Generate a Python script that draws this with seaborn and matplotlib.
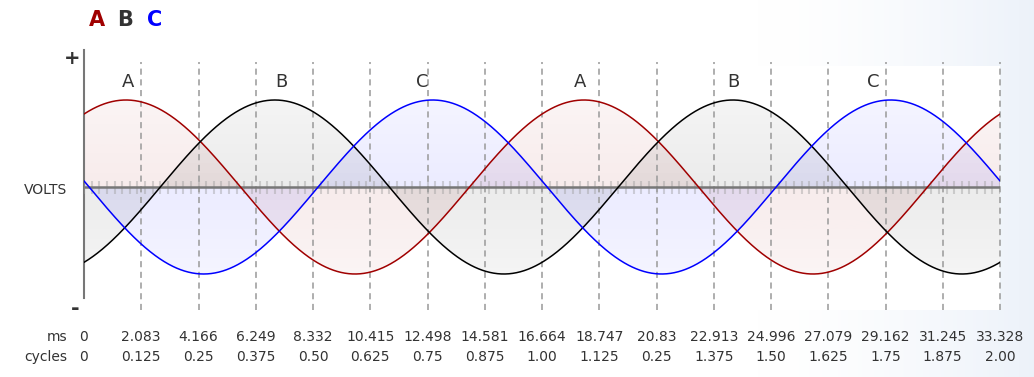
import numpy as np
import pandas as pd
import matplotlib
matplotlib.use("Agg")
import matplotlib.pyplot as plt
import matplotlib.transforms as mtransforms
from matplotlib.patches import Rectangle, PathPatch
from matplotlib.colors import to_rgb
import seaborn as sns

# ---------------- data ----------------
phases = ["A", "B", "C"]
phase_shift_deg = [57, -60, 176]
amplitude = [1.0, 1.0, 1.0]
line_colors = ["#a00000", "#000000", "#0000ff"]
legend_colors = ["#a00000", "#333333", "#0000ff"]
cycles_span = 2.0

grid_cycles = [k / 8 for k in range(17)]
ms_labels = ["0", "2.083", "4.166", "6.249", "8.332", "10.415", "12.498", "14.581",
             "16.664", "18.747", "20.83", "22.913", "24.996", "27.079", "29.162",
             "31.245", "33.328"]
cycle_labels = ["0", "0.125", "0.25", "0.375", "0.50", "0.625", "0.75", "0.875",
                "1.00", "1.125", "0.25", "1.375", "1.50", "1.625", "1.75", "1.875", "2.00"]
peak_label_text = ["A", "B", "C", "A", "B", "C"]
peak_label_x = [0.096, 0.430, 0.738, 1.083, 1.417, 1.723]
tick_step_cycles = 1 / 60

# ---------------- style ----------------
sns.set_style("white")
plt.rcParams["font.family"] = ["DejaVu Sans"]

W, H = 1034, 377
fig = plt.figure(figsize=(W / 100, H / 100), dpi=100)


def fx(px):
    return px / W


def fy(py):
    return 1 - py / H


# background gradient + white plot panel
bg = fig.add_axes([0, 0, 1, 1], zorder=-10)
xx = np.linspace(0, 1, 500)
yy = np.linspace(0, 1, 200)
X, Y = np.meshgrid(xx, yy)
wgt = np.clip((X * W - 760) / 274, 0, 1) ** 1.5 * 0.85
target = np.array([0.915, 0.940, 0.975])
img = 1 - wgt[..., None] * (1 - target)
bg.imshow(img, extent=[0, 1, 0, 1], aspect="auto", origin="upper", interpolation="bilinear")
bg.add_patch(Rectangle((0, fy(310)), fx(1000), fy(66) - fy(310), color="white", lw=0))
bg.set_xlim(0, 1)
bg.set_ylim(0, 1)
bg.axis("off")

# main axes
zero_px, amp_px = 187, 87
top_px, bot_px = 50, 310
ax = fig.add_axes([fx(84), fy(bot_px), fx(1000) - fx(84), fy(top_px) - fy(bot_px)])
ax.patch.set_alpha(0)
ymax = (zero_px - top_px) / amp_px
ymin = -(bot_px - zero_px) / amp_px

t = np.linspace(0, cycles_span, 1441)
rows = []
curves = {}
for name, sh, a in zip(phases, phase_shift_deg, amplitude):
    v = a * np.sin(2 * np.pi * t + np.deg2rad(sh))
    curves[name] = v
    rows.append(pd.DataFrame({"cycles": t, "volts": v, "phase": name}))
df = pd.concat(rows, ignore_index=True)

# gradient fills
a_peak, a_zero = 0.045, 0.08
ys = np.linspace(-1.05, 1.05, 256)
for name, col in zip(phases, line_colors):
    v = curves[name]
    poly = ax.fill_between(t, v, 0, facecolor="none", edgecolor="none")
    pp = PathPatch(poly.get_paths()[0], transform=ax.transData, facecolor="none", edgecolor="none")
    ax.add_patch(pp)
    rgb = to_rgb(col)
    alpha = a_zero - (a_zero - a_peak) * np.clip(np.abs(ys), 0, 1)
    grad = np.zeros((256, 1, 4))
    grad[:, 0, :3] = rgb
    grad[:, 0, 3] = alpha
    im = ax.imshow(grad, extent=[0, cycles_span, -1.05, 1.05], origin="lower",
                   aspect="auto", interpolation="bilinear", zorder=2)
    im.set_clip_path(pp)

# tick marks along zero line
ax.vlines(np.arange(0, cycles_span + 1e-9, tick_step_cycles), -0.085, 0.07,
          colors="#999999", alpha=0.4, lw=1.5, zorder=3)

# dashed grid
dash_top = (zero_px - 62) / amp_px
ax.vlines(grid_cycles[1:], ymin, dash_top, colors="#999999", linestyles=(0, (4, 3)),
          lw=1.1, zorder=3, clip_on=False)

# zero line
ax.hlines(0, 0, cycles_span, colors="#777777", lw=1.8, zorder=4)

# curves
sns.lineplot(data=df, x="cycles", y="volts", hue="phase",
             palette=dict(zip(phases, line_colors)), estimator=None, sort=False,
             lw=1.1, legend=False, ax=ax, zorder=5)

ax.set_xlim(0, cycles_span)
ax.set_ylim(ymin, ymax)
ax.set_xlabel("")
ax.set_ylabel("")
ax.set_xticks([])
ax.set_yticks([])
for s in ["top", "right", "bottom"]:
    ax.spines[s].set_visible(False)
ax.spines["left"].set_color("#777777")
ax.spines["left"].set_linewidth(1.5)
ax.spines["left"].set_bounds(-(298 - zero_px) / amp_px, ymax)

# peak labels
for s, x in zip(peak_label_text, peak_label_x):
    ax.text(x, (zero_px - 82) / amp_px, s, ha="center", va="center",
            fontsize=13, color="#333333")

# bottom label rows
trans = mtransforms.blended_transform_factory(ax.transData, fig.transFigure)
for x, m, c in zip(grid_cycles, ms_labels, cycle_labels):
    ax.text(x, fy(337), m, transform=trans, ha="center", va="center",
            fontsize=10, color="#333333", clip_on=False)
    ax.text(x, fy(357), c, transform=trans, ha="center", va="center",
            fontsize=10, color="#333333", clip_on=False)
fig.text(fx(67), fy(337), "ms", ha="right", va="center", fontsize=10, color="#333333")
fig.text(fx(67), fy(357), "cycles", ha="right", va="center", fontsize=10, color="#333333")
fig.text(fx(67), fy(190), "VOLTS", ha="right", va="center", fontsize=10, color="#333333")

# + / - markers
fig.text(fx(72), fy(58), "+", ha="center", va="center", fontsize=14,
         fontweight="bold", color="#333333")
fig.text(fx(75), fy(309), "-", ha="center", va="center", fontsize=15,
         fontweight="bold", color="#333333")

# legend letters
for s, xpx, col in zip(phases, [97, 125.5, 155], legend_colors):
    fig.text(fx(xpx), fy(20), s, ha="center", va="center", fontsize=15,
             fontweight="bold", color=col)

fig.savefig("out.png", dpi=100)
